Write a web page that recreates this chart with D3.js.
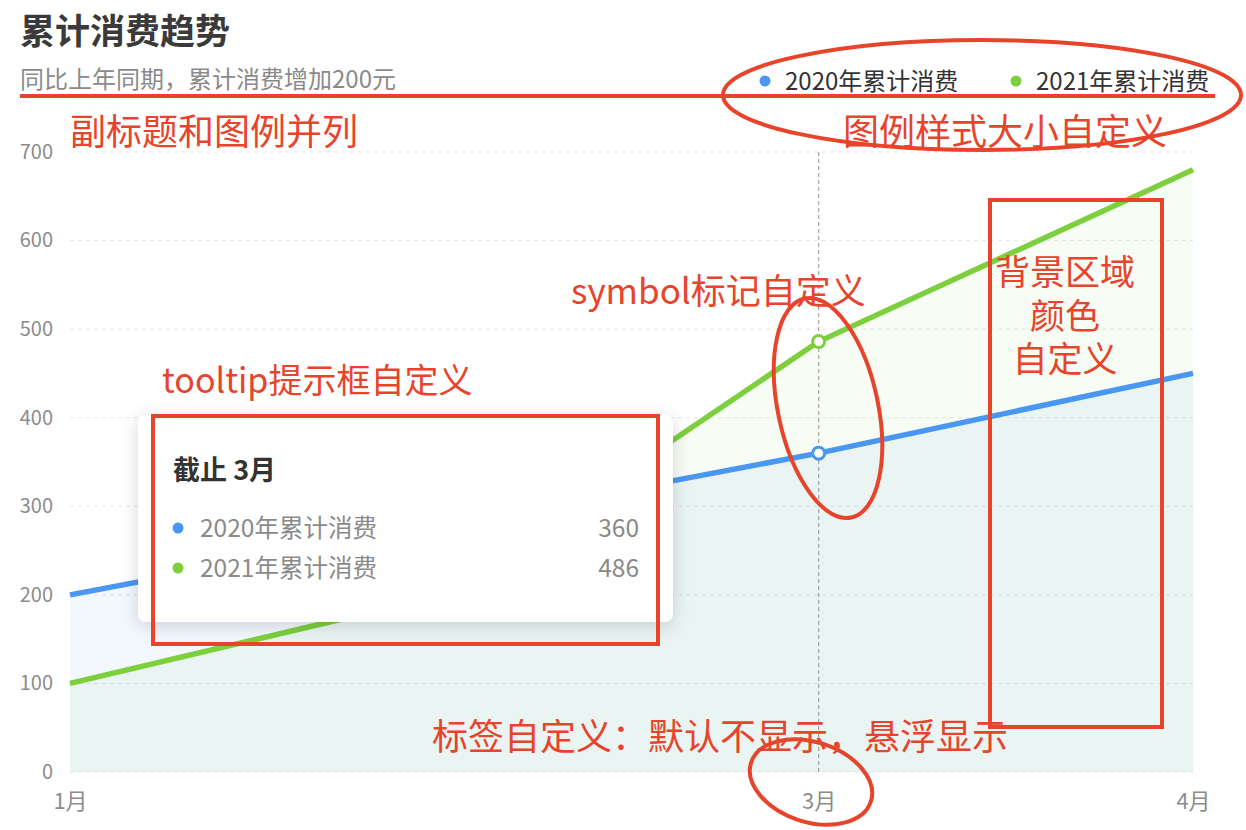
<!DOCTYPE html>
<html>
<head>
<meta charset="utf-8">
<script src="https://cdn.jsdelivr.net/npm/d3@7"></script>
<style>
  html, body { margin: 0; padding: 0; background: #fff; }
  svg { display: block; font-family: "Noto Sans CJK SC", "Noto Sans", sans-serif; }
</style>
</head>
<body>
<div id="chart"></div>
<script>
// Chart data
var months = ["1月", "2月", "3月", "4月"];
var shownMonths = ["1月", "3月", "4月"]; // 2月 label hidden (shown on hover)
var spend2020 = [200, 280, 360, 450];
var spend2021 = [100, 200, 486, 680];
var yTicks = [0, 100, 200, 300, 400, 500, 600, 700];
var seriesNames = ["2020年累计消费", "2021年累计消费"];
var seriesColors = ["#4a97f2", "#7dcf3e"];
var activeMonth = "3月";

var width = 1246;
var height = 830;
var margin = { top: 152, right: 53, bottom: 58, left: 70 };
var red = "#e8432b";

var svg = d3.select("#chart")
    .append("svg")
    .attr("width", width)
    .attr("height", height);

// Drop shadow for the tooltip
var defs = svg.append("defs");
defs.append("filter")
    .attr("id", "shadow")
    .attr("x", "-20%").attr("y", "-20%")
    .attr("width", "140%").attr("height", "150%")
    .append("feDropShadow")
    .attr("dx", 0).attr("dy", 4)
    .attr("stdDeviation", 9)
    .attr("flood-color", "#000")
    .attr("flood-opacity", 0.16);

var xScale = d3.scalePoint()
    .domain(months)
    .range([margin.left, width - margin.right]);

var yScale = d3.scaleLinear()
    .domain([0, 700])
    .range([height - margin.bottom, margin.top]);

// Title, subtitle
svg.append("text")
    .attr("x", 20).attr("y", 44)
    .style("font-size", "35px")
    .style("font-weight", "bold")
    .style("fill", "#3a3a3a")
    .text("累计消费趋势");

svg.append("text")
    .attr("x", 20).attr("y", 88)
    .style("font-size", "24px")
    .style("fill", "#8a8a8a")
    .text("同比上年同期，累计消费增加200元");

// Legend
var legendX = [765, 1016];
seriesNames.forEach(function(name, i) {
    svg.append("circle")
        .attr("cx", legendX[i]).attr("cy", 81).attr("r", 5.5)
        .style("fill", seriesColors[i]);
    svg.append("text")
        .attr("x", legendX[i] + 20).attr("y", 90)
        .style("font-size", "24px")
        .style("fill", "#333")
        .text(name);
});

// Gridlines
svg.append("g")
    .selectAll("line")
    .data(yTicks)
    .enter().append("line")
    .attr("x1", margin.left)
    .attr("x2", width - margin.right)
    .attr("y1", d => yScale(d))
    .attr("y2", d => yScale(d))
    .style("stroke", "#e6e6e6")
    .style("stroke-dasharray", "4,4");

// Y axis labels
var yAxis = svg.append("g")
    .attr("transform", "translate(" + margin.left + ",0)")
    .call(d3.axisLeft(yScale).tickValues(yTicks).tickSize(0).tickPadding(17));
yAxis.select(".domain").remove();
yAxis.selectAll("text")
    .style("font-size", "20px")
    .style("font-family", "'Noto Sans CJK SC', sans-serif")
    .style("fill", "#8c8c8c");

// X axis labels
var xAxis = svg.append("g")
    .attr("transform", "translate(0," + (height - margin.bottom) + ")")
    .call(d3.axisBottom(xScale).tickValues(shownMonths).tickSize(0).tickPadding(21));
xAxis.select(".domain").remove();
xAxis.selectAll("text")
    .style("font-size", "22px")
    .style("font-family", "'Noto Sans CJK SC', sans-serif")
    .style("fill", "#8c8c8c");

// Areas and lines
var seriesData = [spend2020, spend2021];
var areaOpacity = [0.07, 0.06];

seriesData.forEach(function(values, i) {
    var area = d3.area()
        .x((d, j) => xScale(months[j]))
        .y0(yScale(0))
        .y1(d => yScale(d));
    svg.append("path")
        .datum(values)
        .attr("d", area)
        .style("fill", seriesColors[i])
        .style("fill-opacity", areaOpacity[i]);
});

// crosshair
svg.append("line")
    .attr("x1", xScale(activeMonth)).attr("x2", xScale(activeMonth))
    .attr("y1", yScale(700)).attr("y2", yScale(0))
    .style("stroke", "#a8a8a8")
    .style("stroke-width", 1.3)
    .style("stroke-dasharray", "4,3");

seriesData.forEach(function(values, i) {
    var line = d3.line()
        .x((d, j) => xScale(months[j]))
        .y(d => yScale(d));
    svg.append("path")
        .datum(values)
        .attr("d", line)
        .style("fill", "none")
        .style("stroke", seriesColors[i])
        .style("stroke-width", 5.5);
});

// markers at the active month
var activeIndex = months.indexOf(activeMonth);
seriesData.forEach(function(values, i) {
    svg.append("circle")
        .attr("cx", xScale(activeMonth))
        .attr("cy", yScale(values[activeIndex]))
        .attr("r", 6)
        .style("fill", "#fff")
        .style("stroke", seriesColors[i])
        .style("stroke-width", 3);
});

// Tooltip
var tip = svg.append("g").attr("transform", "translate(138,415)");
tip.append("rect")
    .attr("width", 535).attr("height", 207)
    .attr("rx", 8)
    .style("fill", "#fff")
    .attr("filter", "url(#shadow)");
tip.append("text")
    .attr("x", 35).attr("y", 65)
    .style("font-size", "27px")
    .style("font-weight", "bold")
    .style("fill", "#333")
    .text("截止 " + activeMonth);
seriesNames.forEach(function(name, i) {
    var rowY = 113 + i * 40;
    tip.append("circle")
        .attr("cx", 40).attr("cy", rowY).attr("r", 5.5)
        .style("fill", seriesColors[i]);
    tip.append("text")
        .attr("x", 62).attr("y", rowY + 9)
        .style("font-size", "24.5px")
        .style("fill", "#8a8a8a")
        .text(name);
    tip.append("text")
        .attr("x", 501).attr("y", rowY + 9)
        .style("text-anchor", "end")
        .style("font-size", "24.5px")
        .style("fill", "#8a8a8a")
        .text(seriesData[i][activeIndex]);
});

// Red annotations
var notes = svg.append("g")
    .style("fill", "none")
    .style("stroke", red)
    .style("stroke-width", 4);

notes.append("line")
    .attr("x1", 20).attr("y1", 96)
    .attr("x2", 1215).attr("y2", 96);
notes.append("ellipse")
    .attr("cx", 982).attr("cy", 95).attr("rx", 259).attr("ry", 55);
notes.append("rect")
    .attr("x", 153).attr("y", 416).attr("width", 505).attr("height", 228);
notes.append("ellipse")
    .attr("transform", "translate(828,408) rotate(-12)")
    .attr("rx", 50).attr("ry", 112);
notes.append("rect")
    .attr("x", 990).attr("y", 200).attr("width", 172).attr("height", 527);
notes.append("ellipse")
    .attr("transform", "translate(811,782) rotate(18)")
    .attr("rx", 63).attr("ry", 40);

var noteTexts = [
    { t: "副标题和图例并列", x: 70, y: 145, a: "start", s: 36 },
    { t: "图例样式大小自定义", x: 843, y: 145, a: "start", s: 36 },
    { t: "symbol标记自定义", x: 571, y: 304, a: "start", s: 35 },
    { t: "tooltip提示框自定义", x: 162, y: 393, a: "start", s: 34 },
    { t: "标签自定义：默认不显示，悬浮显示", x: 432, y: 750, a: "start", s: 36 }
];
svg.append("g")
    .selectAll("text")
    .data(noteTexts)
    .enter().append("text")
    .attr("x", d => d.x)
    .attr("y", d => d.y)
    .style("text-anchor", d => d.a)
    .style("font-size", d => d.s + "px")
    .style("fill", red)
    .text(d => d.t);

// three-line note inside the background box
var bgNote = svg.append("text")
    .attr("x", 1065).attr("y", 285)
    .style("text-anchor", "middle")
    .style("font-size", "35px")
    .style("fill", red);
["背景区域", "颜色", "自定义"].forEach(function(t, i) {
    bgNote.append("tspan")
        .attr("x", 1065)
        .attr("dy", i === 0 ? 0 : 43.5)
        .text(t);
});
</script>
</body>
</html>
